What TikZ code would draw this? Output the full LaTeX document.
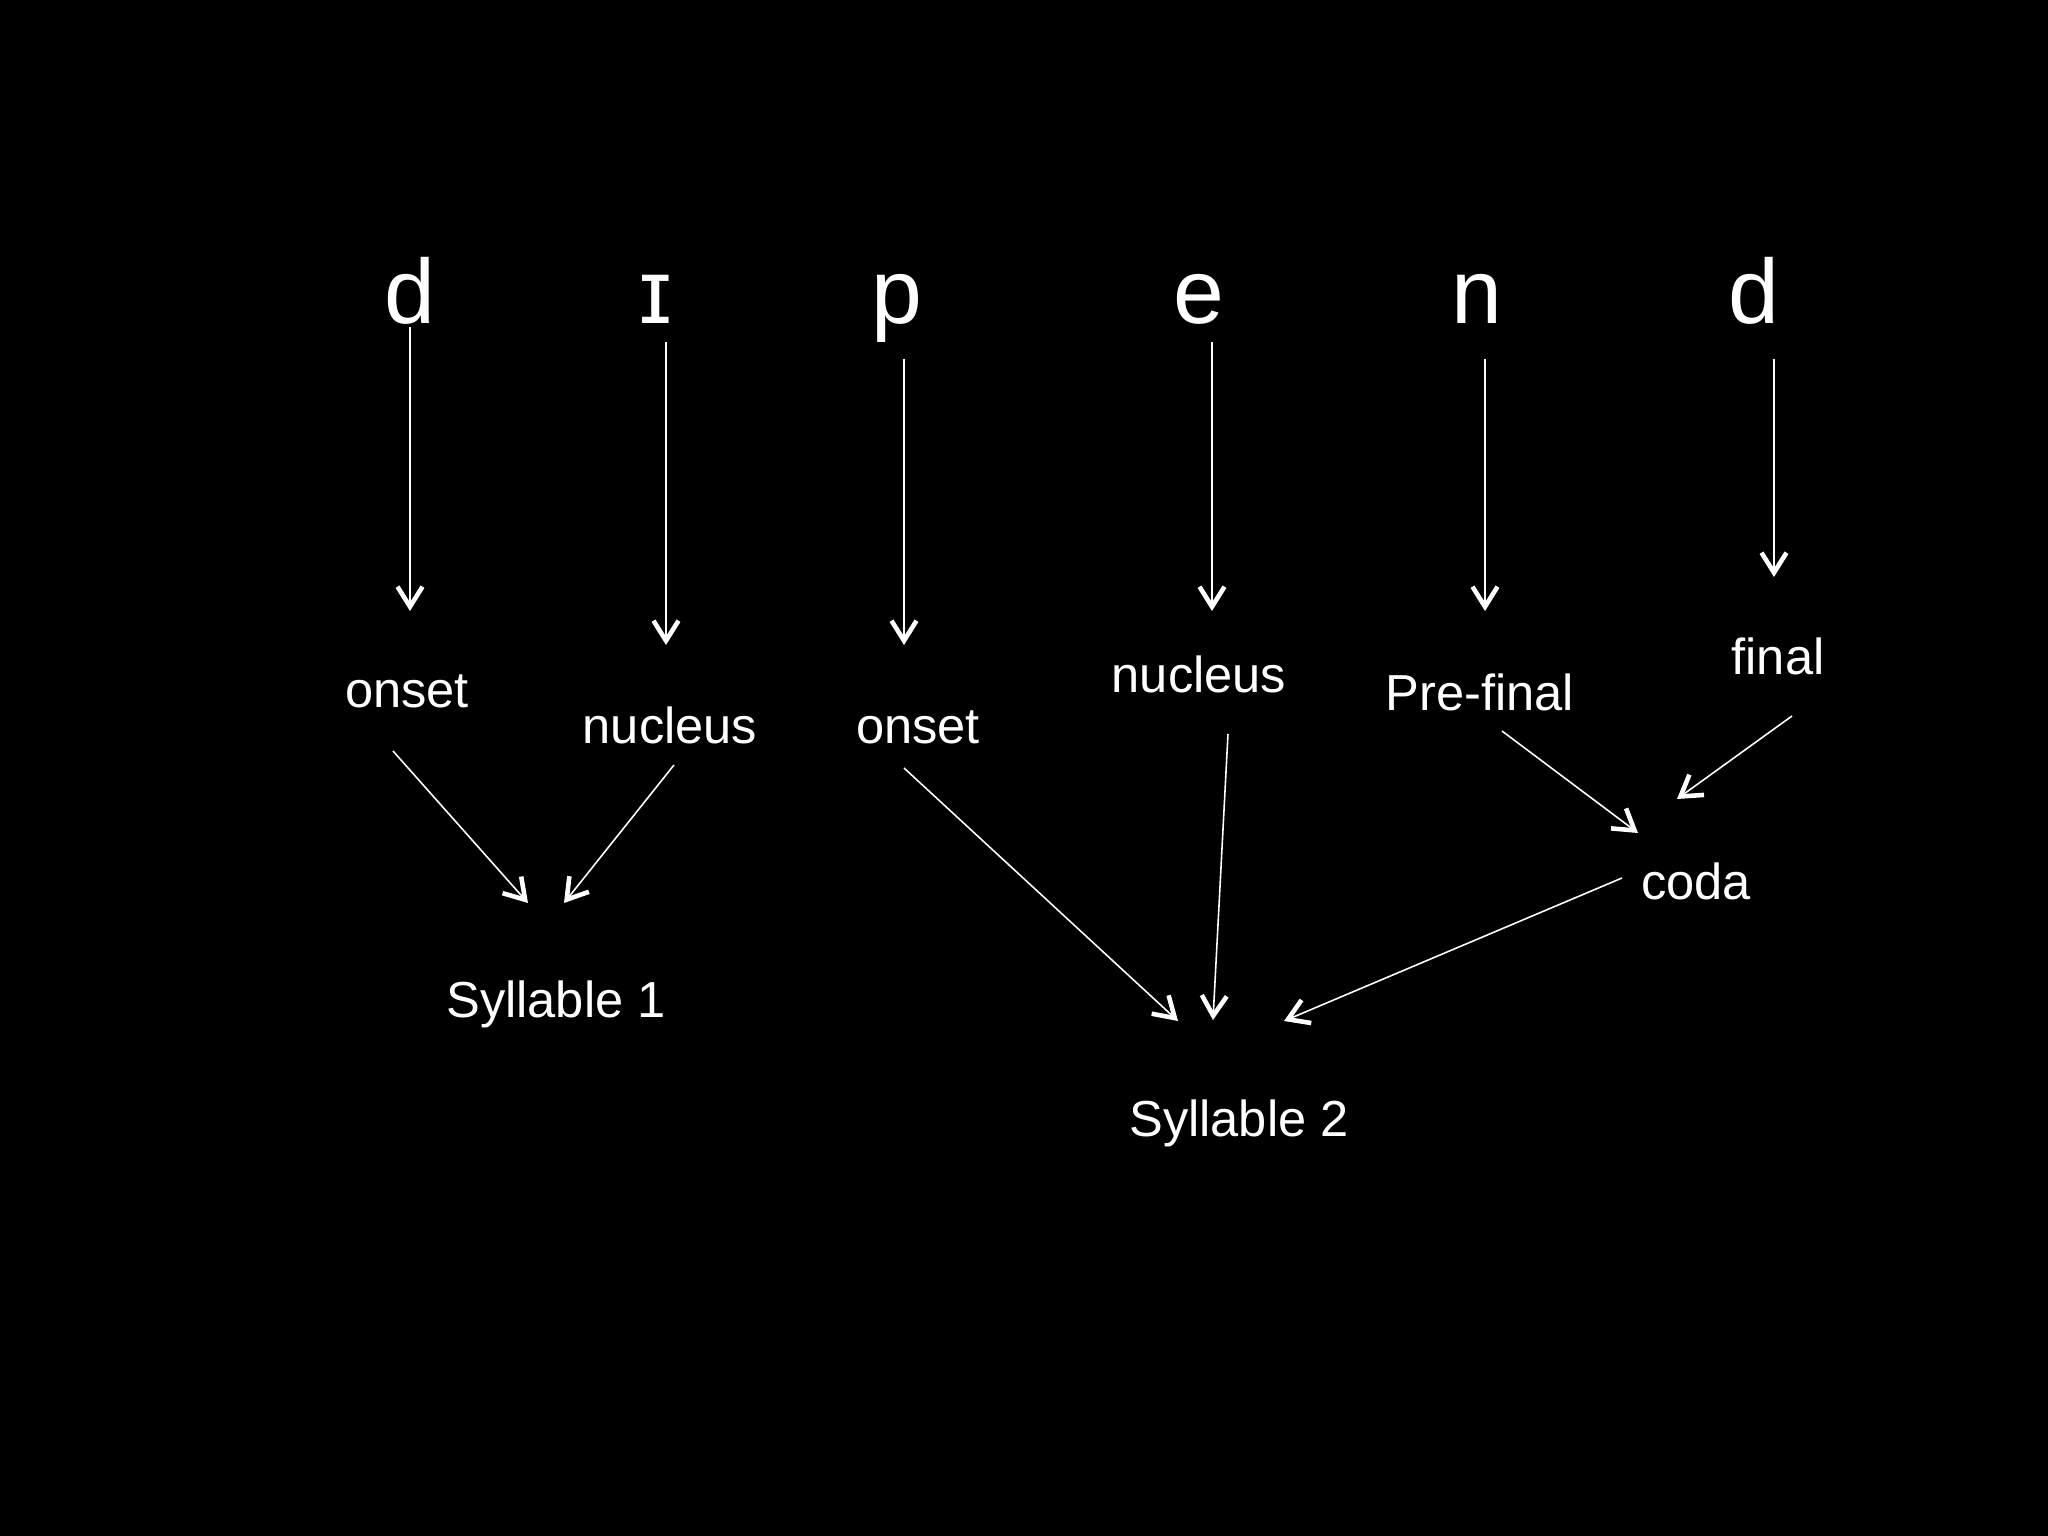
\documentclass[tikz,border=0pt]{standalone}
\usepackage{fontspec}
\setmainfont{Liberation Sans}
\usetikzlibrary{arrows.meta,calc}
\begin{document}
\begin{tikzpicture}
        \tikzstyle{every node}=[text=white, inner sep=0pt, anchor=base];
        \tikzstyle{letter}=[font=\fontsize{26}{30}\selectfont];
        \tikzstyle{lbl}=[font=\fontsize{14.4}{17}\selectfont];
        \tikzstyle{arr}=[draw=white, line width=0.45pt, -{Straight Barb[length=0.2cm, width=0.25cm, line width=1.3pt]}];
        \fill[black] (0,0) rectangle (20.48,-15.36);
        \useasboundingbox (0,0) rectangle (20.48,-15.36);
        % sounds
        \node[letter] (d1) at (4.10,-3.24) {d};
        \node[letter] (i1) at (6.56,-3.24) {ɪ};
        \node[letter] (p1) at (8.97,-3.24) {p};
        \node[letter] (e1) at (11.99,-3.24) {e};
        \node[letter] (n1) at (14.77,-3.24) {n};
        \node[letter] (d2) at (17.54,-3.24) {d};
        % parts
        \node[lbl] (on1) at (4.07,-7.08) {onset};
        \node[lbl] (nu1) at (6.70,-7.44) {nucleus};
        \node[lbl] (on2) at (9.18,-7.44) {onset};
        \node[lbl] (nu2) at (11.99,-6.93) {nucleus};
        \node[lbl] (pf) at (14.80,-7.10) {Pre-final};
        \node[lbl] (fin) at (17.78,-6.74) {final};
        \node[lbl] (coda) at (16.96,-8.99) {coda};
        \node[lbl] (syl1) at (5.56,-10.17) {Syllable 1};
        \node[lbl] (syl2) at (12.39,-11.36) {Syllable 2};
        % sound to part
        \draw[arr] ($(d1.base)+(0,-0.03)$) -- ($(d1.base |- on1.base)+(0,0.97)$);
        \draw[arr] ($(i1.base)+(0.10,-0.18)$) -- ($(i1.base |- nu1.base)+(0.10,0.99)$);
        \draw[arr] ($(p1.base)+(0.07,-0.35)$) -- ($(p1.base |- on2.base)+(0.07,0.99)$);
        \draw[arr] ($(e1.base)+(0.13,-0.18)$) -- ($(e1.base |- nu2.base)+(0.13,0.82)$);
        \draw[arr] ($(n1.base)+(0.08,-0.35)$) -- ($(n1.base |- pf.base)+(0.08,0.99)$);
        \draw[arr] ($(d2.base)+(0.20,-0.35)$) -- ($(d2.base |- fin.base)+(0.20,0.97)$);
        % part to syllable
        \draw[arr] ($(on1.base)+(-0.14,-0.43)$) -- ($(syl1.base)+(-0.28,1.14)$);
        \draw[arr] ($(nu1.base)+(0.04,-0.21)$) -- ($(syl1.base)+(0.08,1.14)$);
        \draw[arr] ($(on2.base)+(-0.14,-0.24)$) -- ($(syl2.base)+(-0.61,1.15)$);
        \draw[arr] ($(nu2.base)+(0.29,-0.41)$) -- ($(syl2.base)+(-0.26,1.16)$);
        \draw[arr] ($(coda.base)+(-0.74,0.21)$) -- ($(syl2.base)+(0.45,1.15)$);
        \draw[arr] ($(pf.base)+(0.22,-0.21)$) -- ($(coda.base)+(-0.58,0.66)$);
        \draw[arr] ($(fin.base)+(0.14,-0.42)$) -- ($(coda.base)+(-0.19,1.00)$);
    \end{tikzpicture}
\end{document}
